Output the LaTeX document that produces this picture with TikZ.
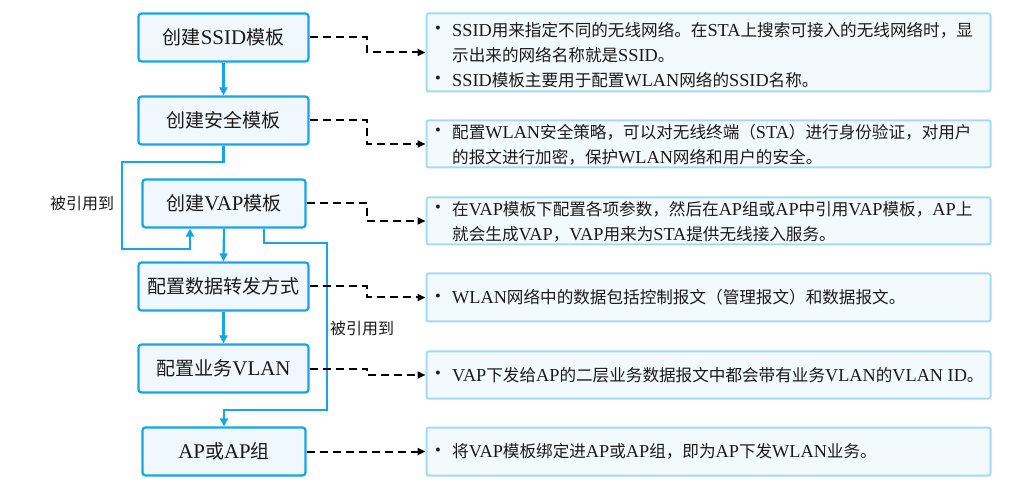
\documentclass[tikz,border=0pt]{standalone}
\usepackage{fontspec}
\setmainfont{Noto Sans CJK SC}
\newfontfamily\latinf[Scale=1.1]{Liberation Serif}
\usetikzlibrary{arrows.meta}
\newcommand\lt[1]{{\latinf #1}}
\definecolor{bblue}{HTML}{14A6E8}
\definecolor{lfill}{HTML}{F0F8FD}
\definecolor{rline}{HTML}{A3DBF5}
\definecolor{rfill}{HTML}{F3FAFE}
\definecolor{txt}{HTML}{1A1A1A}
\begin{document}
\begin{tikzpicture}[x=1pt,y=-1pt,
  lbox/.style={draw=bblue, line width=2.2pt, fill=lfill, rounded corners=3pt,
    font=\fontsize{19pt}{22pt}\selectfont, text=txt, inner sep=0pt, minimum height=48pt},
  rbox/.style={draw=rline, line width=2pt, fill=rfill, rounded corners=2pt,
    minimum width=564pt, inner sep=0pt},
  rtext/.style={anchor=west, font=\fontsize{16.6pt}{20pt}\selectfont, text=txt, inner sep=0pt},
  bul/.style={font=\fontsize{15pt}{18pt}\selectfont, text=txt, inner sep=0pt},
  flow/.style={draw=bblue, line width=2.2pt, -{Triangle[length=8pt,width=8pt]}},
  refl/.style={draw=black, line width=2pt, dash pattern=on 8pt off 5pt, -{Triangle[length=8pt,width=7pt]}},
  lbl/.style={font=\fontsize{16pt}{18pt}\selectfont, text=txt, inner sep=0pt}]
\useasboundingbox (0,0) rectangle (1021,489);

% left boxes
\node[lbox, minimum width=170pt] (b1) at (223.5,37.5) {创建\lt{SSID}模板};
\node[lbox, minimum width=170pt] (b2) at (223.5,120.5) {创建安全模板};
\node[lbox, minimum width=163pt] (b3) at (224,203.5) {创建\lt{VAP}模板};
\node[lbox, minimum width=170pt] (b4) at (223.5,286.5) {配置数据转发方式};
\node[lbox, minimum width=170pt] (b5) at (223.5,368.5) {配置业务\lt{VLAN}};
\node[lbox, minimum width=163pt] (b6) at (224,451.5) {\lt{AP}或\lt{AP}组};

% right boxes
\node[rbox, minimum height=78pt] (r1) at (708.5,52.5) {};
\node[rbox, minimum height=47pt] (r2) at (708.5,144) {};
\node[rbox, minimum height=47pt] (r3) at (708.5,221) {};
\node[rbox, minimum height=48pt] (r4) at (708.5,297.5) {};
\node[rbox, minimum height=47pt] (r5) at (708.5,375) {};
\node[rbox, minimum height=48pt] (r6) at (708.5,451.5) {};

% right texts
\node[bul] (u1a) at (438,30) {\lt{•}};
\node[rtext] (t1a) at (452,30) {\lt{SSID}用来指定不同的无线网络。在\lt{STA}上搜索可接入的无线网络时，显};
\node[rtext] (t1b) at (452,55) {示出来的网络名称就是\lt{SSID}。};
\node[bul] (u1c) at (438,80) {\lt{•}};
\node[rtext] (t1c) at (452,80) {\lt{SSID}模板主要用于配置\lt{WLAN}网络的\lt{SSID}名称。};

\node[bul] (u2a) at (438,132) {\lt{•}};
\node[rtext] (t2a) at (452,132) {配置\lt{WLAN}安全策略，可以对无线终端（\lt{STA}）进行身份验证，对用户};
\node[rtext] (t2b) at (452,157) {的报文进行加密，保护\lt{WLAN}网络和用户的安全。};

\node[bul] (u3a) at (438,209) {\lt{•}};
\node[rtext] (t3a) at (452,209) {在\lt{VAP}模板下配置各项参数，然后在\lt{AP}组或\lt{AP}中引用\lt{VAP}模板，\lt{AP}上};
\node[rtext] (t3b) at (452,234) {就会生成\lt{VAP}，\lt{VAP}用来为\lt{STA}提供无线接入服务。};

\node[bul] (u4) at (438,297.5) {\lt{•}};
\node[rtext] (t4) at (452,297.5) {\lt{WLAN}网络中的数据包括控制报文（管理报文）和数据报文。};

\node[bul] (u5) at (438,375) {\lt{•}};
\node[rtext] (t5) at (452,375) {\lt{VAP}下发给\lt{AP}的二层业务数据报文中都会带有业务\lt{VLAN}的\lt{VLAN ID}。};

\node[bul] (u6) at (438,451.5) {\lt{•}};
\node[rtext] (t6) at (452,451.5) {将\lt{VAP}模板绑定进\lt{AP}或\lt{AP}组，即为\lt{AP}下发\lt{WLAN}业务。};

% labels
\node[lbl] (l1) at (82,203) {被引用到};
\node[lbl] (l2) at (362,328) {被引用到};

% flow arrows
\draw[flow] (b1.south) -- (b2.north);
\draw[flow] (b3.south) -- (b4.north);
\draw[flow] (b4.south) -- (b5.north);

\coordinate (p1) at (190,249);
\draw[flow] (b2.south) |- (122,162) -- (122,249) -- (p1) -- (p1 |- b3.south);
\coordinate (p2) at (264,243);
\coordinate (p3) at (224,410);
\draw[flow] (p2 |- b3.south) -- (p2) -- (327,243) -- (327,410) -- (p3) -- (b6.north);

% dashed references
\coordinate (m) at (367,0);
\draw[refl] (b1.east) -- (b1.east -| m) |- (r1.west);
\draw[refl] (b2.east) -- (b2.east -| m) |- (r2.west);
\draw[refl] (b3.east) -- (b3.east -| m) |- (r3.west);
\draw[refl] (b4.east) -- (b4.east -| m) |- (r4.west);
\draw[refl] (b5.east) -- (b5.east -| m) |- (r5.west);
\draw[refl] (b6.east) -- (r6.west);
\end{tikzpicture}
\end{document}
